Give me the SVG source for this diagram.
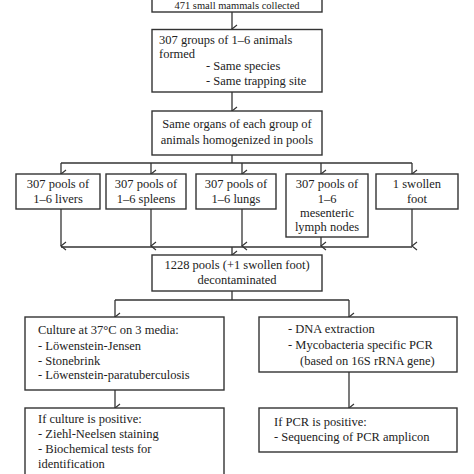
<svg xmlns="http://www.w3.org/2000/svg" width="474" height="474" viewBox="0 0 474 474">
<defs>
<marker id="ah" viewBox="0 0 10 10" refX="5" refY="9" markerWidth="10" markerHeight="10" markerUnits="userSpaceOnUse" orient="auto-start-reverse">
<polyline points="1,4 5,9 9,4" fill="none" stroke="#333" stroke-width="1.2"/>
</marker>
</defs>
<style>
rect{fill:#fff;stroke:#333;stroke-width:1.4}
text{font-family:"Liberation Serif","Times New Roman",serif;font-size:12.5px;fill:#222}
.c{text-anchor:middle}
#conn line,#conn polyline{stroke:#333;stroke-width:1.3;fill:none}
</style>
<rect x="0" y="0" width="474" height="474" style="fill:#fff;stroke:none"/>
<g id="conn">
<line x1="232" y1="12" x2="232" y2="29" marker-end="url(#ah)"/>
<line x1="232" y1="92" x2="232" y2="111" marker-end="url(#ah)"/>
<line x1="232" y1="155" x2="232" y2="163"/>
<line x1="61" y1="163" x2="412" y2="163"/>
<line x1="61" y1="163" x2="61" y2="174" marker-end="url(#ah)"/>
<line x1="151" y1="163" x2="151" y2="174" marker-end="url(#ah)"/>
<line x1="242" y1="163" x2="242" y2="174" marker-end="url(#ah)"/>
<line x1="321" y1="163" x2="321" y2="174" marker-end="url(#ah)"/>
<line x1="412" y1="163" x2="412" y2="174" marker-end="url(#ah)"/>
<line x1="61" y1="209" x2="61" y2="246" marker-end="url(#ah)"/>
<line x1="151" y1="209" x2="151" y2="246" marker-end="url(#ah)"/>
<line x1="242" y1="209" x2="242" y2="246" marker-end="url(#ah)"/>
<line x1="321" y1="237" x2="321" y2="246" marker-end="url(#ah)"/>
<line x1="412" y1="209" x2="412" y2="246" marker-end="url(#ah)"/>
<line x1="61" y1="247" x2="412" y2="247"/>
<line x1="232" y1="247" x2="232" y2="255" marker-end="url(#ah)"/>
<line x1="232" y1="291" x2="232" y2="300"/>
<line x1="115" y1="300" x2="349" y2="300"/>
<line x1="115" y1="300" x2="115" y2="317" marker-end="url(#ah)"/>
<line x1="349" y1="300" x2="349" y2="317" marker-end="url(#ah)"/>
<line x1="115" y1="390" x2="115" y2="408" marker-end="url(#ah)"/>
<line x1="349" y1="372" x2="349" y2="408" marker-end="url(#ah)"/>
</g>
<g id="n0">
<rect x="152" y="-20" width="170" height="32"/>
<text class="c" x="237" y="9" style="font-size:10.5px">471 small mammals collected</text>
</g>
<g id="n1">
<rect x="152" y="29.5" width="170" height="62.5"/>
<text x="159" y="44">307 groups of 1–6 animals</text>
<text x="159" y="58">formed</text>
<text x="206" y="70">- Same species</text>
<text x="206" y="85">- Same trapping site</text>
</g>
<g id="n2">
<rect x="152" y="111" width="170" height="44"/>
<text class="c" x="237" y="128">Same organs of each group of</text>
<text class="c" x="237" y="144">animals homogenized in pools</text>
</g>
<g id="n3">
<rect x="16" y="174" width="84" height="35"/>
<text class="c" x="58" y="188">307 pools of</text>
<text class="c" x="58" y="203">1–6 livers</text>
</g>
<g id="n4">
<rect x="106" y="174" width="80" height="35"/>
<text class="c" x="146" y="188">307 pools of</text>
<text class="c" x="146" y="203">1–6 spleens</text>
</g>
<g id="n5">
<rect x="196" y="174" width="80" height="35"/>
<text class="c" x="236" y="188">307 pools of</text>
<text class="c" x="236" y="203">1–6 lungs</text>
</g>
<g id="n6">
<rect x="286" y="174" width="82" height="63"/>
<text class="c" x="327" y="188">307 pools of</text>
<text class="c" x="327" y="203">1–6</text>
<text class="c" x="327" y="217">mesenteric</text>
<text class="c" x="327" y="231">lymph nodes</text>
</g>
<g id="n7">
<rect x="376" y="174" width="82" height="35"/>
<text class="c" x="417" y="188">1 swollen</text>
<text class="c" x="417" y="203">foot</text>
</g>
<g id="n8">
<rect x="152" y="255" width="170" height="36"/>
<text class="c" x="237" y="269">1228 pools (+1 swollen foot)</text>
<text class="c" x="237" y="284">decontaminated</text>
</g>
<g id="n9">
<rect x="25" y="317" width="199" height="73"/>
<text x="38" y="334">Culture at 37°C on 3 media:</text>
<text x="38" y="350">- Löwenstein-Jensen</text>
<text x="38" y="365">- Stonebrink</text>
<text x="38" y="379">- Löwenstein-paratuberculosis</text>
</g>
<g id="n10">
<rect x="259" y="317" width="198" height="55"/>
<text x="288" y="333">- DNA extraction</text>
<text x="288" y="349">- Mycobacteria specific PCR</text>
<text x="300" y="365">(based on 16S rRNA gene)</text>
</g>
<g id="n11">
<rect x="25" y="408" width="199" height="80"/>
<text x="38" y="423">If culture is positive:</text>
<text x="38" y="438">- Ziehl-Neelsen staining</text>
<text x="38" y="453">- Biochemical tests for</text>
<text x="38" y="468">identification</text>
</g>
<g id="n12">
<rect x="259" y="408" width="198" height="44"/>
<text x="274" y="426">If PCR is positive:</text>
<text x="274" y="441">- Sequencing of PCR amplicon</text>
</g>
</svg>
